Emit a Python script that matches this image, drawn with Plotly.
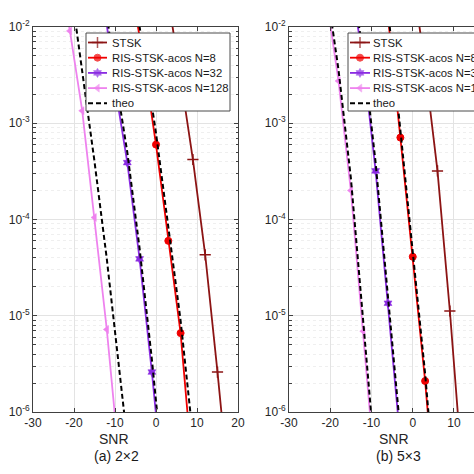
import plotly.graph_objects as go

# ---------------- data ----------------
# (a) 2x2
snr_stsk_a = [3, 6, 9, 12, 15, 18]
ber_stsk_a = [1.9e-2, 3.0e-3, 4.2e-4, 4.3e-5, 2.6e-6, 1.26e-7]
snr_n8_a = [-6, -3, 0, 3, 6, 9]
ber_n8_a = [2.5e-2, 4.5e-3, 6.0e-4, 6.0e-5, 6.6e-6, 2.2e-7]
snr_n32_a = [-13, -10, -7, -4, -1, 2]
ber_n32_a = [2.2e-2, 2.4e-3, 3.9e-4, 3.9e-5, 2.6e-6, 1.26e-7]
snr_n128_a = [-24, -21, -18, -15, -12, -9]
ber_n128_a = [5.0e-2, 9.1e-3, 1.35e-3, 1.05e-4, 7.2e-6, 3.2e-7]
snr_theo8_a = [-6, -3, 0, 3, 6, 9]
ber_theo8_a = [3.2e-2, 5.6e-3, 7.9e-4, 7.9e-5, 8.9e-6, 5.6e-7]
snr_theo32_a = [-13, -10, -7, -4, -1, 2]
ber_theo32_a = [2.8e-2, 3.2e-3, 5.0e-4, 5.0e-5, 3.5e-6, 1.8e-7]
snr_theo128_a = [-21, -18, -15, -12, -9, -6]
ber_theo128_a = [3.0e-2, 3.5e-3, 4.0e-4, 3.9e-5, 3.0e-6, 2.1e-7]

# (b) 5x3
snr_stsk_b = [0, 3, 6, 9, 12]
ber_stsk_b = [3.2e-2, 3.8e-3, 3.2e-4, 1.12e-5, 2.5e-7]
snr_n8_b = [-9, -6, -3, 0, 3, 6]
ber_n8_b = [1.0e-1, 1.26e-2, 7.1e-4, 4.1e-5, 2.1e-6, 6.3e-8]
snr_n32_b = [-15, -12, -9, -6, -3]
ber_n32_b = [2.8e-2, 4.5e-3, 3.2e-4, 1.35e-5, 5.0e-7]
snr_n128_b = [-21, -18, -15, -12, -9]
ber_n128_b = [2.1e-2, 2.75e-3, 2.0e-4, 6.9e-6, 2.0e-7]
snr_theo8_b = [-9, -6, -3, 0, 3, 6]
ber_theo8_b = [1.2e-1, 1.5e-2, 8.5e-4, 4.9e-5, 2.5e-6, 7.9e-8]
snr_theo32_b = [-15, -12, -9, -6, -3]
ber_theo32_b = [3.4e-2, 5.4e-3, 3.9e-4, 1.66e-5, 6.3e-7]
snr_theo128_b = [-21, -18, -15, -12, -9]
ber_theo128_b = [2.8e-2, 3.6e-3, 2.7e-4, 9.5e-6, 2.8e-7]

series_names = ["STSK", "RIS-STSK-acos N=8", "RIS-STSK-acos N=32",
                "RIS-STSK-acos N=128", "theo"]
x_tickvals = [-30, -20, -10, 0, 10, 20]
x_ticktext = ["-30", "-20", "-10", "0", "10", "20"]
y_tickvals = [1e-6, 1e-5, 1e-4, 1e-3, 1e-2]
y_ticktext = ["10<sup>-6</sup>", "10<sup>-5</sup>", "10<sup>-4</sup>",
              "10<sup>-3</sup>", "10<sup>-2</sup>"]
y_minor = [m * 10.0 ** e for e in range(-6, -2) for m in range(2, 10)]
x_title = "SNR"
captions = ["(a) 2\u00d72", "(b) 5\u00d73"]

# ---------------- styles ----------------
W = H = 474
FONT = "Liberation Sans, Arial, Helvetica, sans-serif"
C_STSK, C_N8, C_N32, C_N128 = "#8C1414", "#F00000", "#8A2BE2", "#EE82EE"
styles = [
    dict(color=C_STSK, symbol="cross-thin", size=8, mline=dict(color=C_STSK, width=1.5)),
    dict(color=C_N8, symbol="circle", size=7, mline=dict(color=C_N8, width=1)),
    dict(color=C_N32, symbol="hexagram", size=7, mline=dict(color=C_N32, width=0.5)),
    dict(color=C_N128, symbol="triangle-left", size=7, mline=dict(color=C_N128, width=0.5)),
]
LW = 1.8
THEO = dict(color="black", width=2, dash="5px,3px")

fig = go.Figure()


def add_panel(xa, ya, data, theo):
    for (sx, sy), st in zip(data, styles):
        fig.add_trace(go.Scatter(
            x=sx, y=sy, mode="lines+markers", xaxis=xa, yaxis=ya, showlegend=False,
            line=dict(color=st["color"], width=LW),
            marker=dict(symbol=st["symbol"], size=st["size"], color=st["color"],
                        line=st["mline"])))
    tx, ty = [], []
    for sx, sy in theo:
        tx += list(sx) + [None]
        ty += list(sy) + [None]
    fig.add_trace(go.Scatter(x=tx, y=ty, mode="lines", xaxis=xa, yaxis=ya,
                             showlegend=False, connectgaps=False, line=THEO))


add_panel("x", "y",
          [(snr_stsk_a, ber_stsk_a), (snr_n8_a, ber_n8_a),
           (snr_n32_a, ber_n32_a), (snr_n128_a, ber_n128_a)],
          [(snr_theo8_a, ber_theo8_a), (snr_theo32_a, ber_theo32_a),
           (snr_theo128_a, ber_theo128_a)])
add_panel("x2", "y2",
          [(snr_stsk_b, ber_stsk_b), (snr_n8_b, ber_n8_b),
           (snr_n32_b, ber_n32_b), (snr_n128_b, ber_n128_b)],
          [(snr_theo8_b, ber_theo8_b), (snr_theo32_b, ber_theo32_b),
           (snr_theo128_b, ber_theo128_b)])

# ---------------- manual legends on a pixel overlay axis ----------------
ROW0, ROWSTEP = 42.5, 15.2


def add_legend(bx0, bx1, by0, by1, lx0, lx1, tx):
    fig.add_trace(go.Scatter(
        x=[bx0, bx1, bx1, bx0, bx0], y=[by0, by0, by1, by1, by0], mode="lines",
        fill="toself", fillcolor="white", line=dict(color="#4a4a4a", width=1),
        xaxis="x3", yaxis="y3", showlegend=False, hoverinfo="skip"))
    for i, name in enumerate(series_names):
        yc = ROW0 + i * ROWSTEP
        if i < 4:
            st = styles[i]
            fig.add_trace(go.Scatter(
                x=[lx0, (lx0 + lx1) / 2, lx1], y=[yc, yc, yc], mode="lines+markers",
                line=dict(color=st["color"], width=LW),
                marker=dict(symbol=st["symbol"], size=[0, st["size"], 0],
                            color=st["color"], line=st["mline"]),
                xaxis="x3", yaxis="y3", showlegend=False, hoverinfo="skip"))
        else:
            fig.add_trace(go.Scatter(
                x=[lx0, lx1], y=[yc, yc], mode="lines", line=THEO,
                xaxis="x3", yaxis="y3", showlegend=False, hoverinfo="skip"))
        fig.add_annotation(x=tx, y=yc, xref="x3", yref="y3", text=name,
                           showarrow=False, xanchor="left", yanchor="middle",
                           font=dict(family=FONT, size=11.3, color="#1a1a1a"))


add_legend(86, 230, 33, 111, 88, 107, 110)
add_legend(348, 490, 33, 111, 350, 370, 371)

# ---------------- axes ----------------
AX = "#404040"
TICKFONT = dict(family=FONT, size=12, color="#262626")
Y0, Y1 = 1 - 412 / H, 1 - 27 / H

xcommon = dict(tickmode="array", tickvals=x_tickvals, ticktext=x_ticktext,
               ticks="inside", ticklen=4, tickcolor=AX, showline=True, linecolor=AX,
               linewidth=1, showgrid=True, gridcolor="#e3e3e3", zeroline=False,
               tickfont=TICKFONT, fixedrange=True, automargin=False)
ycommon = dict(type="log", range=[-6, -2], tickmode="array", tickvals=y_tickvals,
               ticktext=y_ticktext, ticks="inside", ticklen=4, tickcolor=AX,
               showline=True, linecolor=AX, linewidth=1, showgrid=True,
               gridcolor="#e3e3e3", zeroline=False, tickfont=TICKFONT,
               minor=dict(tickmode="array", tickvals=y_minor, ticks="inside",
                          ticklen=2.5, tickcolor=AX, showgrid=True,
                          gridcolor="#efefef", griddash="dot"),
               fixedrange=True, automargin=False)

fig.update_layout(
    width=W, height=H, margin=dict(l=0, r=0, t=0, b=0, pad=0, autoexpand=False),
    paper_bgcolor="white", plot_bgcolor="rgba(0,0,0,0)",
    font=dict(family=FONT, color="#262626"),
    xaxis=dict(xcommon, domain=[33 / W, 238 / W], range=[-30, 20], anchor="y",
               mirror="allticks"),
    yaxis=dict(ycommon, domain=[Y0, Y1], anchor="x", mirror="allticks"),
    xaxis2=dict(xcommon, domain=[289 / W, 1.0], range=[-30, 14.85], anchor="y2",
                mirror="allticks"),
    yaxis2=dict(ycommon, domain=[Y0, Y1], anchor="x2", mirror=False),
    xaxis3=dict(domain=[0, 1], range=[0, W], visible=False, anchor="y3",
                fixedrange=True, automargin=False),
    yaxis3=dict(domain=[0, 1], range=[H, 0], visible=False, anchor="x3",
                fixedrange=True, automargin=False),
)

for xc in (114, 394):
    fig.add_annotation(x=xc / W, y=1 - 439 / H, xref="paper", yref="paper",
                       text=x_title, showarrow=False, xanchor="center",
                       yanchor="middle", font=dict(family=FONT, size=14, color="#262626"))
for xc, cap in [(116, captions[0]), (398, captions[1])]:
    fig.add_annotation(x=xc / W, y=1 - 456 / H, xref="paper", yref="paper",
                       text=cap, showarrow=False, xanchor="center",
                       yanchor="middle", font=dict(family=FONT, size=14, color="#1a1a1a"))

fig.write_html("out.html")
